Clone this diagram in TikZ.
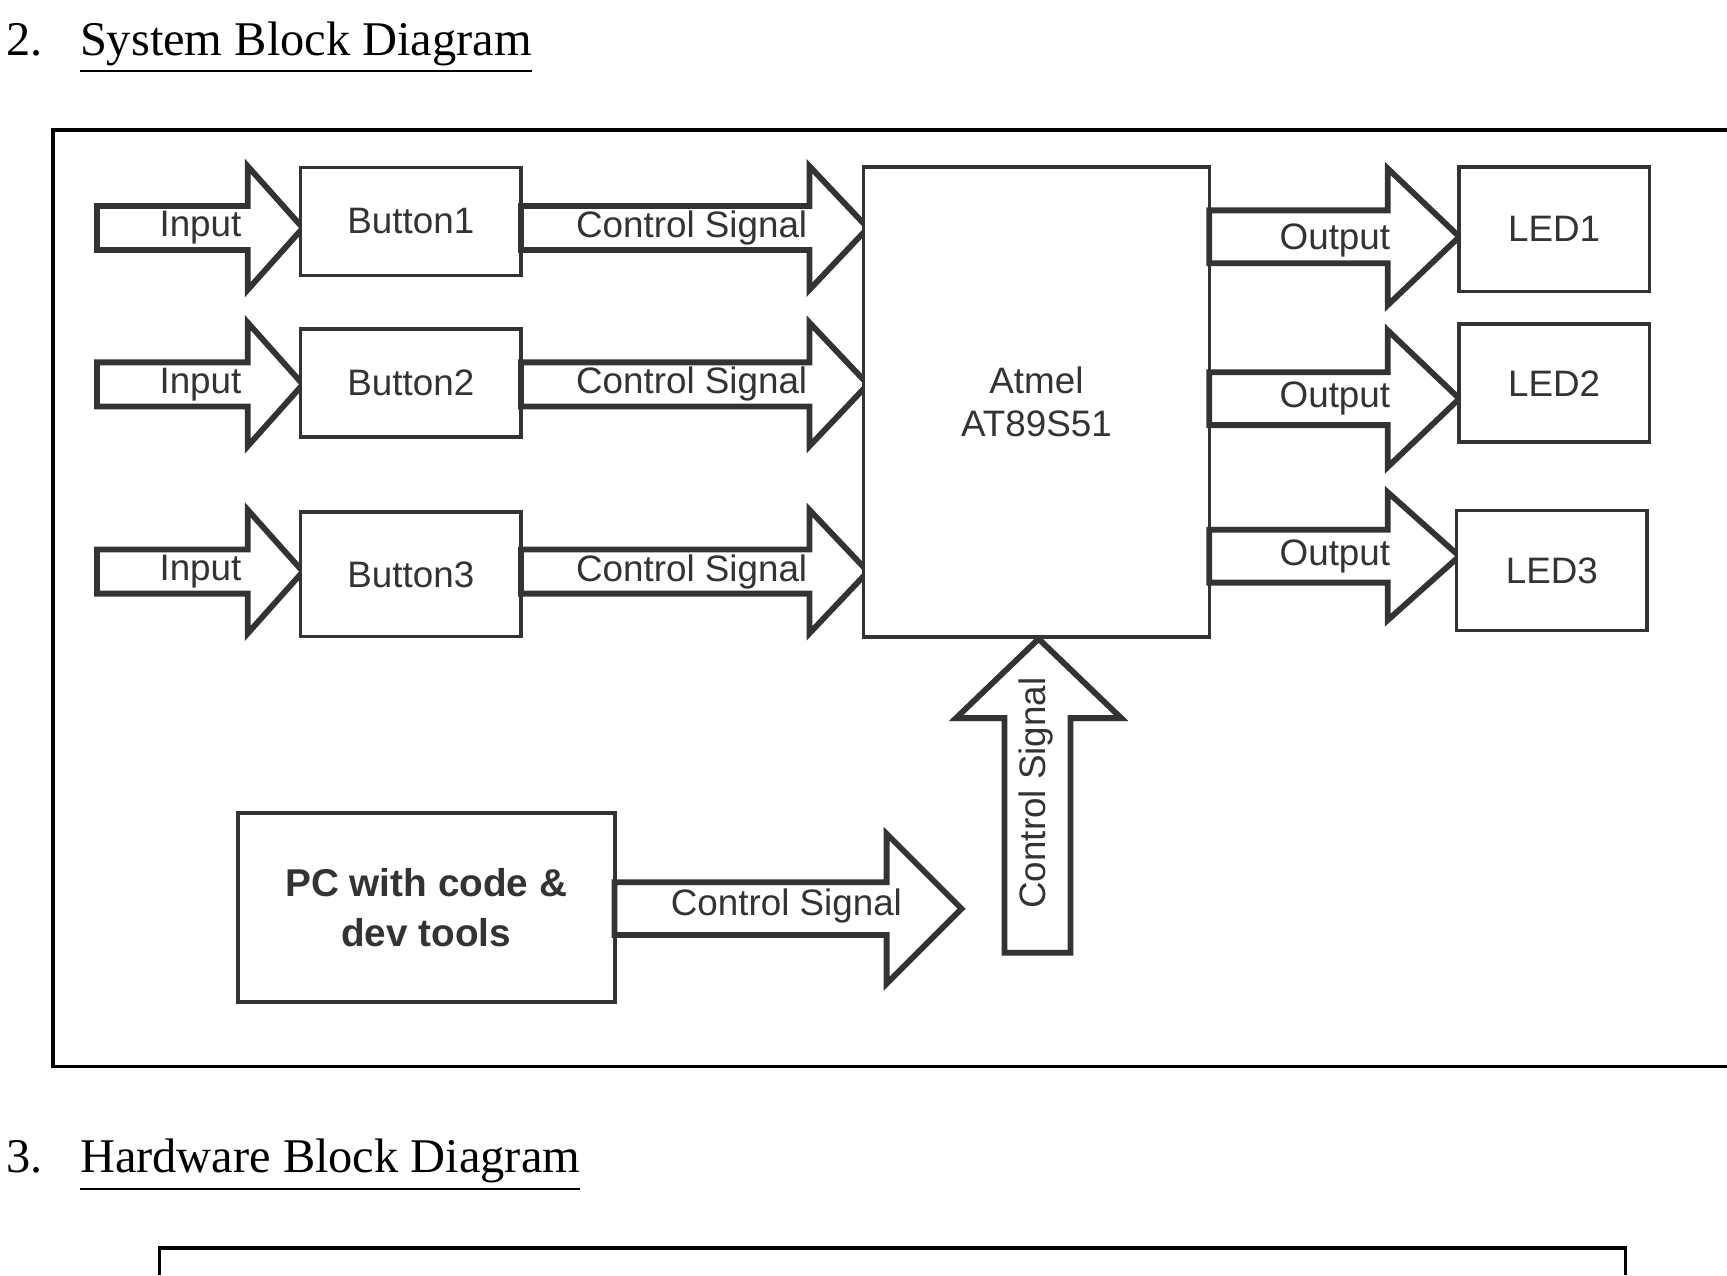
\documentclass[tikz,border=0pt]{standalone}
\usepackage{fontspec}
\setmainfont{Liberation Serif}
\newfontfamily\arial{Liberation Sans}
\begin{document}
\begin{tikzpicture}[x=0.01cm,y=-0.01cm,
  blk/.style={draw=black!80,line width=0.95pt,inner sep=0,fill=white},
  fat/.style={draw=black!80,line width=1.5pt,line join=miter,fill=white},
  lbl/.style={font=\arial\fontsize{9.5}{11}\selectfont,text=black!80},
  hd/.style={font=\fontsize{12.5}{14}\selectfont,anchor=base west,inner sep=0}]
\useasboundingbox (0,0) rectangle (1568,1158);
\newcommand\fatarr[6]{\draw[fat] (#1,#4-#5) -- (#2,#4-#5) -- (#2,#4-#6) -- (#3,#4) -- (#2,#4+#6) -- (#2,#4+#5) -- (#1,#4+#5) -- cycle;}
\node[hd] (n2) at (5,50) {2.};
\node[hd] (t2) at (72,50) {\underline{System Block Diagram}};
\node[hd] (n3) at (5,1065) {3.};
\node[hd] (t3) at (72,1065) {\underline{Hardware Block Diagram}};
\draw[line width=0.85pt] (1568,118) -- (48,118) -- (48,968) -- (1568,968);
\draw[line width=0.85pt] (145,1158) -- (145,1133) -- (1476,1133) -- (1476,1158);
\foreach \y/\t/\b/\n in {207/152/250/1,349/299/397/2,519/465/578/3}{
  \fatarr{88}{225}{275}{\y}{20}{56}
  \node[lbl] at (182,\y) {Input};
  \node[blk,minimum width=2cm,minimum height={(\b-\t)*0.01cm}] (b\n) at (373,{(\t+\b)/2}) {};
  \node[lbl] at (b\n) {Button\n};
  \fatarr{473}{735}{788}{\y}{20}{56}
  \node[lbl] at (628,\y) {Control Signal};
}
\node[blk,minimum width=3.14cm,minimum height=4.26cm,align=center,lbl] (mcu) at (941,365) {Atmel\\AT89S51};
\fatarr{1098}{1260}{1325}{215}{24}{62}
\fatarr{1098}{1260}{1325}{362}{24}{62}
\fatarr{1098}{1260}{1325}{505}{24}{58}
\foreach \y in {218,362,505}{\node[lbl] at (1212,\y) {Output};}
\node[blk,minimum width=1.73cm,minimum height=1.13cm,lbl] (l1) at (1411,208) {LED1};
\node[blk,minimum width=1.73cm,minimum height=1.07cm,lbl] (l2) at (1411,348) {LED2};
\node[blk,minimum width=1.73cm,minimum height=1.09cm,lbl] (l3) at (1409,518) {LED3};
\node[blk,minimum width=3.42cm,minimum height=1.71cm,align=center,font=\arial\bfseries\fontsize{10}{13}\selectfont,text=black!80] (pc) at (387,824) {PC with code \&\\dev tools};
\fatarr{558}{805}{873}{825}{24}{68}
\node[lbl] at (714,823) {Control Signal};
\draw[fat] (912,865) -- (912,652) -- (868,652) -- (943,580) -- (1018,652) -- (972,652) -- (972,865) -- cycle;
\node[lbl,rotate=90] at (941,720) {Control Signal};
\end{tikzpicture}
\end{document}
